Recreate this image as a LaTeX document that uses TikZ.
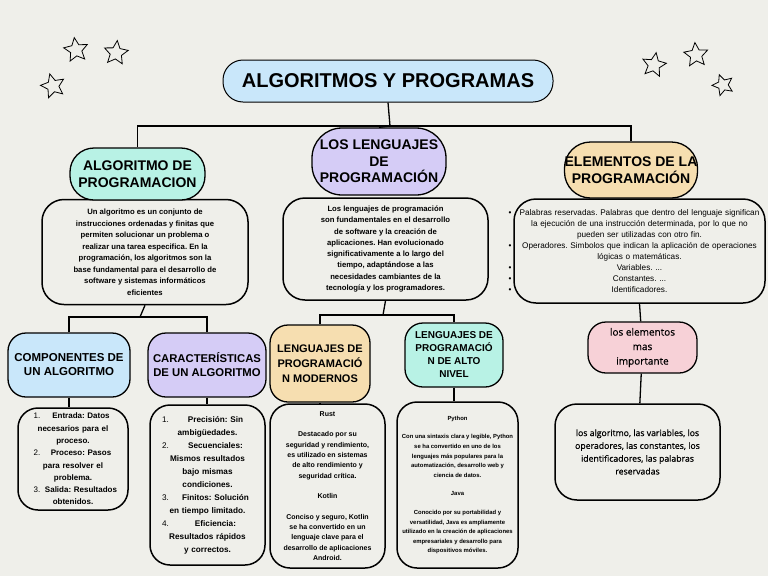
\documentclass[tikz,border=0pt]{standalone}
\usepackage{fontspec}
\setmainfont{Liberation Sans}
\newfontfamily\softfont[FakeBold=0.6]{Open Sans}
\usetikzlibrary{shapes.geometric}
\definecolor{paper}{HTML}{EFEFEA}
\definecolor{skyblue}{HTML}{C9E7FA}
\definecolor{mint}{HTML}{B8F2E5}
\definecolor{lilac}{HTML}{D5CCF6}
\definecolor{peach}{HTML}{F6DEB0}
\definecolor{rosy}{HTML}{F7D1D7}
\frenchspacing
\newcommand{\stepline}[2]{\makebox[16pt][c]{\mdseries #1}\makebox[\dimexpr\linewidth-16pt\relax][c]{#2}}
\newcommand{\bul}[1]{\makebox[0pt][r]{\textbullet\hspace{5pt}}\makebox[\linewidth][c]{#1}}
\begin{document}
\begin{tikzpicture}[x=1pt,y=-1pt, every node/.style={align=center,inner sep=0pt},
    head/.style={draw,line width=1.3pt,font=\bfseries},
    card/.style={draw,rounded corners=22pt,line width=1.5pt,fill=paper},
    twinkle/.style={draw,star,star points=5,star point ratio=2.1,minimum size=25pt,line width=0.8pt},
    link/.style={line width=1.3pt}]
  \fill[paper] (0,0) rectangle (768,576);
  \useasboundingbox (0,0) rectangle (768,576);
  % Stars
  \node[twinkle,rotate=8] (s1) at (76,50) {};
  \node[twinkle,rotate=-6] (s2) at (116,53) {};
  \node[twinkle,rotate=15] (s3) at (53,86) {};
  \node[twinkle,rotate=-10] (s4) at (654,65) {};
  \node[twinkle,rotate=5] (s5) at (696,55) {};
  \node[twinkle,rotate=20,minimum size=22pt] (s6) at (723,85) {};
  % Title
  \node[head,fill=skyblue,rounded corners=20pt,minimum width=330pt,minimum height=42pt,line width=1pt,
        font=\fontsize{20}{24}\selectfont\bfseries] (title) at (388,81) {ALGORITMOS Y PROGRAMAS};
  % Cards under the three topics
  \node[card,minimum width=206pt,minimum height=105pt,font=\fontsize{7.7}{11.5}\selectfont\bfseries] (intro) at (145,252) {%
    Un algoritmo es un conjunto de\\ instrucciones ordenadas y finitas que\\ permiten solucionar un problema o\\
    realizar una tarea especifica. En la\\ programación, los algoritmos son la\\ base fundamental para el desarrollo de\\
    software y sistemas informáticos\\ eficientes};
  \node[card,minimum width=205pt,minimum height=102pt,font=\fontsize{7.7}{11.3}\selectfont\bfseries] (langtext) at (385.5,249) {%
    Los lenguajes de programación\\ son fundamentales en el desarrollo\\ de software y la creación de\\
    aplicaciones. Han evolucionado\\ significativamente a lo largo del\\ tiempo, adaptándose a las\\
    necesidades cambiantes de la\\ tecnología y los programadores.};
  \node[card,minimum width=251pt,minimum height=104pt,text width=246pt,font=\fontsize{8.2}{11}\selectfont] (elemtext) at (639.5,251) {%
    \bul{Palabras reservadas. Palabras que dentro del lenguaje significan}\\
    la ejecución de una instrucción determinada, por lo que no\\ pueden ser utilizadas con otro fin.\\
    \bul{Operadores. Simbolos que indican la aplicación de operaciones}\\ lógicas o matemáticas.\\
    \bul{Variables. ...}\\ \bul{Constantes. ...}\\ \bul{Identificadores.}};
  % Topics
  \node[head,fill=mint,rounded corners=24pt,minimum width=135pt,minimum height=52pt,
        font=\fontsize{14}{16.5}\selectfont\bfseries] (algo) at (137.5,174) {ALGORITMO DE\\ PROGRAMACION};
  \node[head,fill=lilac,rounded corners=30pt,minimum width=134pt,minimum height=67pt,
        font=\fontsize{14}{16.5}\selectfont\bfseries] (lang) at (379,161.5) {LOS LENGUAJES\\ DE\\ PROGRAMACIÓN};
  \node[head,fill=peach,rounded corners=26pt,minimum width=133pt,minimum height=56pt,
        font=\fontsize{14}{17}\selectfont\bfseries] (elem) at (631,170) {ELEMENTOS DE LA\\ PROGRAMACIÓN};
  % Subtopics
  \node[head,fill=skyblue,rounded corners=18pt,minimum width=122pt,minimum height=64pt,
        font=\fontsize{11.5}{14}\selectfont\bfseries] (comp) at (69,365) {COMPONENTES DE\\ UN ALGORITMO};
  \node[head,fill=lilac,rounded corners=18pt,minimum width=118pt,minimum height=64pt,
        font=\fontsize{11.3}{14}\selectfont\bfseries] (traits) at (207,365) {CARACTERÍSTICAS\\ DE UN ALGORITMO};
  \node[head,fill=peach,rounded corners=18pt,minimum width=100pt,minimum height=77pt,
        font=\fontsize{11}{15}\selectfont\bfseries] (modern) at (320,363.5) {LENGUAJES DE\\ PROGRAMACIÓ\\ N MODERNOS};
  \node[head,fill=mint,rounded corners=18pt,minimum width=98pt,minimum height=64pt,
        font=\fontsize{10}{13}\selectfont\bfseries] (highlvl) at (454,355) {LENGUAJES DE\\ PROGRAMACIÓ\\ N DE ALTO\\ NIVEL};
  \node[head,fill=rosy,rounded corners=18pt,minimum width=109pt,minimum height=51pt,
        font=\fontsize{10}{14.5}\softfont] (key) at (642.5,347.5) {los elementos\\ mas\\ importante};
  % Detail cards
  \node[card,rounded corners=20pt,minimum width=110pt,minimum height=102pt,text width=88pt,
        font=\fontsize{8}{12.3}\selectfont\bfseries] (steps) at (73,459) {%
    \stepline{1.}{Entrada: Datos}\\ necesarios para el\\ proceso.\\
    \stepline{2.}{Proceso: Pasos}\\ para resolver el\\ problema.\\
    \stepline{3.}{Salida: Resultados}\\ obtenidos.};
  \node[card,rounded corners=20pt,minimum width=115pt,minimum height=160pt,text width=100pt,
        font=\fontsize{8.2}{13}\selectfont\bfseries] (props) at (207.5,485) {%
    \stepline{1.}{Precisión: Sin}\\ ambigüedades.\\
    \stepline{2.}{Secuenciales:}\\ Mismos resultados\\ bajo mismas\\ condiciones.\\
    \stepline{3.}{Finitos: Solución}\\ en tiempo limitado.\\
    \stepline{4.}{Eficiencia:}\\ Resultados rápidos\\ y correctos.};
  \node[card,rounded corners=20pt,minimum width=115pt,minimum height=164pt,
        font=\fontsize{7}{10.3}\selectfont\bfseries] (modlist) at (327.5,486) {%
    Rust\\[10.3pt] Destacado por su\\ seguridad y rendimiento,\\ es utilizado en sistemas\\
    de alto rendimiento y\\ seguridad crítica.\\[10.3pt] Kotlin\\[10.3pt]
    Conciso y seguro, Kotlin\\ se ha convertido en un\\ lenguaje clave para el\\
    desarrollo de aplicaciones\\ Android.};
  \node[card,rounded corners=20pt,minimum width=121pt,minimum height=166pt,
        font=\fontsize{5.9}{9.6}\selectfont\bfseries] (highlist) at (457.5,485) {%
    Python\\[9pt] Con una sintaxis clara y legible, Python\\ se ha convertido en uno de los\\
    lenguajes más populares para la\\ automatización, desarrollo web y\\ ciencia de datos.\\[9pt]
    Java\\[9pt] Conocido por su portabilidad y\\ versatilidad, Java es ampliamente\\
    utilizado en la creación de aplicaciones\\ empresariales y desarrollo para\\ dispositivos móviles.};
  \node[card,rounded corners=22pt,minimum width=165pt,minimum height=96pt,
        font=\fontsize{8.7}{12.8}\softfont] (summary) at (637.5,452) {%
    los algoritmo, las variables, los\\ operadores, las constantes, los\\
    identificadores, las palabras\\ reservadas};
  % Edges
  \coordinate (top) at (390,126);
  \draw[link] (title.south) -- (top);
  \draw[link] (algo.north) |- (top) -| (elem.north);
  \draw[link] (top) -- (lang.north);
  \coordinate (fork1) at (140,317);
  \draw[link] (intro.south) -- (fork1);
  \draw[link] (comp.north) |- (fork1) -| (traits.north);
  \coordinate (fork2) at (383,315);
  \draw[link] (langtext.south) -- (fork2);
  \draw[link] (modern.north) |- (fork2) -| (highlvl.north);
  \draw[link] (comp.south) -- (comp.south |- steps.north);
  \draw[link] (traits.south) -- (traits.south |- props.north);
  \draw[link] (modern.south) -- (modern.south |- modlist.north);
  \draw[link] (highlvl.south) -- (highlvl.south |- highlist.north);
  \draw[link] (elemtext.south) -- (key);
  \draw[link] (key) -- (summary);
\end{tikzpicture}
\end{document}
